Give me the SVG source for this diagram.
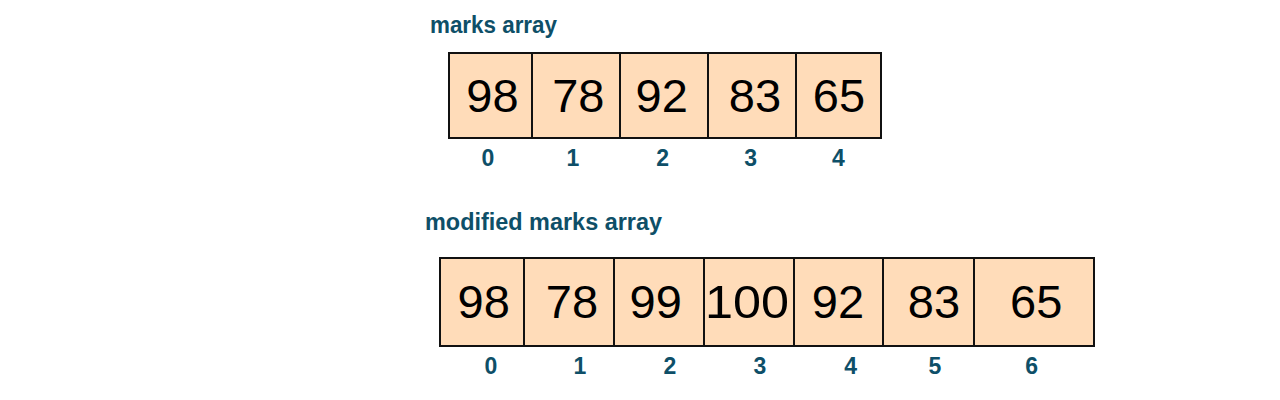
<svg xmlns="http://www.w3.org/2000/svg" width="1280" height="400" viewBox="0 0 1280 400">
<style>
.title{font-family:"Liberation Sans",Arial,sans-serif;font-weight:bold;font-size:23px;fill:#0e4f68}
.idx{font-family:"Liberation Sans",Arial,sans-serif;font-weight:bold;font-size:23px;fill:#0e4f68;text-anchor:middle}
.val{font-family:"Liberation Sans",Arial,sans-serif;font-size:47px;fill:#000;text-anchor:middle}
.cell{fill:#ffdcb9;stroke:#111;stroke-width:2}
</style>
<rect width="1280" height="400" fill="#fff"/>
<g id="marks-array">
<text class="title" x="430" y="33" textLength="127" lengthAdjust="spacingAndGlyphs">marks array</text>
<g id="m0"><rect class="cell" x="449" y="53" width="83" height="85"/><text class="val" x="492.5" y="111.7">98</text><text class="idx" x="488" y="166">0</text></g>
<g id="m1"><rect class="cell" x="532" y="53" width="88" height="85"/><text class="val" x="578.3" y="111.7">78</text><text class="idx" x="573" y="166">1</text></g>
<g id="m2"><rect class="cell" x="620" y="53" width="88" height="85"/><text class="val" x="661.7" y="111.7">92</text><text class="idx" x="662.7" y="166">2</text></g>
<g id="m3"><rect class="cell" x="708" y="53" width="88" height="85"/><text class="val" x="755" y="111.7">83</text><text class="idx" x="750.7" y="166">3</text></g>
<g id="m4"><rect class="cell" x="796" y="53" width="85" height="85"/><text class="val" x="839" y="111.7">65</text><text class="idx" x="838.3" y="166">4</text></g>
</g>
<g id="modified-marks-array">
<text class="title" x="425" y="230" textLength="237" lengthAdjust="spacingAndGlyphs">modified marks array</text>
<g id="n0"><rect class="cell" x="440" y="258" width="84" height="88"/><text class="val" x="483.7" y="318.3">98</text><text class="idx" x="491" y="374">0</text></g>
<g id="n1"><rect class="cell" x="524" y="258" width="90" height="88"/><text class="val" x="572" y="318.3">78</text><text class="idx" x="580" y="374">1</text></g>
<g id="n2"><rect class="cell" x="614" y="258" width="90" height="88"/><text class="val" x="655.7" y="318.3">99</text><text class="idx" x="670" y="374">2</text></g>
<g id="n3"><rect class="cell" x="704" y="258" width="90" height="88"/><text class="val" x="747" y="318.3" textLength="84" lengthAdjust="spacingAndGlyphs">100</text><text class="idx" x="760" y="374">3</text></g>
<g id="n4"><rect class="cell" x="794" y="258" width="89" height="88"/><text class="val" x="838" y="318.3">92</text><text class="idx" x="850.7" y="374">4</text></g>
<g id="n5"><rect class="cell" x="883" y="258" width="91" height="88"/><text class="val" x="934" y="318.3">83</text><text class="idx" x="935" y="374">5</text></g>
<g id="n6"><rect class="cell" x="974" y="258" width="120" height="88"/><text class="val" x="1036.2" y="318.3">65</text><text class="idx" x="1031.7" y="374">6</text></g>
</g>
<g id="connectors"/>
</svg>
